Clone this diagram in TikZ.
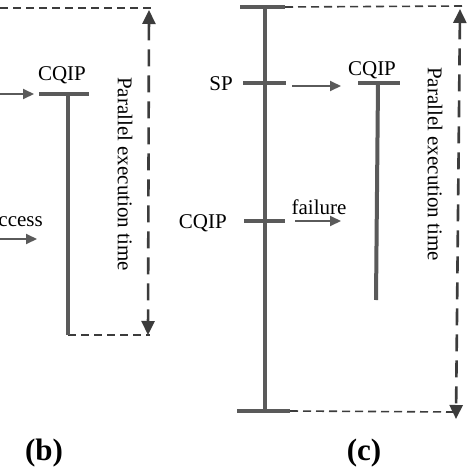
\documentclass[tikz,border=0pt]{standalone}
\usepackage{fontspec}
\setmainfont{Liberation Serif}
\usetikzlibrary{arrows.meta}
\definecolor{bar}{HTML}{5A5A5A}
\definecolor{dsh}{HTML}{3C3C3C}
\tikzset{
  barline/.style={draw=bar,line width=4pt},
  flowarrow/.style={draw=bar,line width=2pt,-{Triangle[length=11pt,width=10pt]}},
  hdash/.style={draw=dsh,line width=1.6pt,dash pattern=on 8pt off 5pt},
  timearrow/.style={draw=dsh,line width=2.6pt,dash pattern=on 17pt off 9pt,{Triangle[length=14pt,width=13pt]}-{Triangle[length=14pt,width=13pt]}},
  lbl/.style={font=\fontsize{21}{24}\selectfont,inner sep=0pt},
  panel/.style={font=\fontsize{31}{34}\selectfont\bfseries,inner sep=0pt},
}
\begin{document}
\begin{tikzpicture}[x=1pt,y=-1pt]
\useasboundingbox (0,0) rectangle (474,474);
\clip (0,0) rectangle (474,474);
\fill[white] (0,0) rectangle (474,474);
% ---------- panel (b) ----------
\coordinate (bTopL) at (0,8);
\coordinate (bTopR) at (152,8);
\coordinate (bArrT) at (149,10);
\coordinate (bArrB) at (148,335);
\coordinate (bBotL) at (68,335);
\coordinate (bBotR) at (150,335);
\coordinate (bBarL) at (39,94);
\coordinate (bBarR) at (89,94);
\coordinate (bV1) at (68,94);
\coordinate (bV2) at (68,335);
\coordinate (bIn1) at (-5,94);
\coordinate (bIn2) at (34,94);
\coordinate (bSu1) at (-5,239);
\coordinate (bSu2) at (37,239);
\draw[hdash] (bTopL) -- (bTopR);
\draw[timearrow] (bArrT) -- (bArrB);
\draw[hdash] (bBotL) -- (bBotR);
\draw[barline] (bBarL) -- (bBarR);
\draw[barline] (bV1) -- (bV2);
\draw[flowarrow] (bIn1) -- (bIn2);
\draw[flowarrow] (bSu1) -- (bSu2);
\node[lbl] (bcqip) at (62,75) {CQIP};
\node[lbl,anchor=base east] (bsucc) at (43,226) {success};
\node[lbl,rotate=-90] (btime) at (125,174) {Parallel execution time};
\node[panel] (blab) at (44,453) {(b)};
% ---------- panel (c) ----------
\coordinate (cTopBarL) at (240,7);
\coordinate (cTopBarR) at (285,7);
\coordinate (cTopDR) at (463,6);
\coordinate (cMainT) at (265,6);
\coordinate (cMainB) at (265,411);
\coordinate (cBotBarL) at (237,411);
\coordinate (cBotBarR) at (290,411);
\coordinate (cBotDR) at (455,412);
\coordinate (cArrT) at (460,9);
\coordinate (cArrB) at (456,419);
\coordinate (cSPL) at (243,83);
\coordinate (cSPR) at (286,83);
\coordinate (cSPA1) at (292,86);
\coordinate (cSPA2) at (341,86);
\coordinate (cQBarL) at (358,83);
\coordinate (cQBarR) at (400,83);
\coordinate (cQV1) at (378,83);
\coordinate (cQV2) at (376,300);
\coordinate (cFL) at (244,221);
\coordinate (cFR) at (285,221);
\coordinate (cFA1) at (295,221);
\coordinate (cFA2) at (341,221);
\draw[hdash] (cTopBarR) -- (cTopDR);
\draw[hdash] (cBotBarR) -- (cBotDR);
\draw[timearrow] (cArrT) -- (cArrB);
\draw[barline] (cMainT) -- (cMainB);
\draw[barline] (cTopBarL) -- (cTopBarR);
\draw[barline] (cBotBarL) -- (cBotBarR);
\draw[barline] (cSPL) -- (cSPR);
\draw[barline] (cFL) -- (cFR);
\draw[flowarrow] (cSPA1) -- (cSPA2);
\draw[flowarrow] (cFA1) -- (cFA2);
\draw[barline] (cQBarL) -- (cQBarR);
\draw[barline] (cQV1) -- (cQV2);
\node[lbl,anchor=base east] (csp) at (233,90) {SP};
\node[lbl] (ccqip) at (372,70) {CQIP};
\node[lbl,anchor=base east] (ccqip2) at (227,228) {CQIP};
\node[lbl] (cfail) at (319,207) {failure};
\node[lbl,rotate=-90] (ctime) at (435,164) {Parallel execution time};
\node[panel] (clab) at (364,453) {(c)};
\end{tikzpicture}
\end{document}
